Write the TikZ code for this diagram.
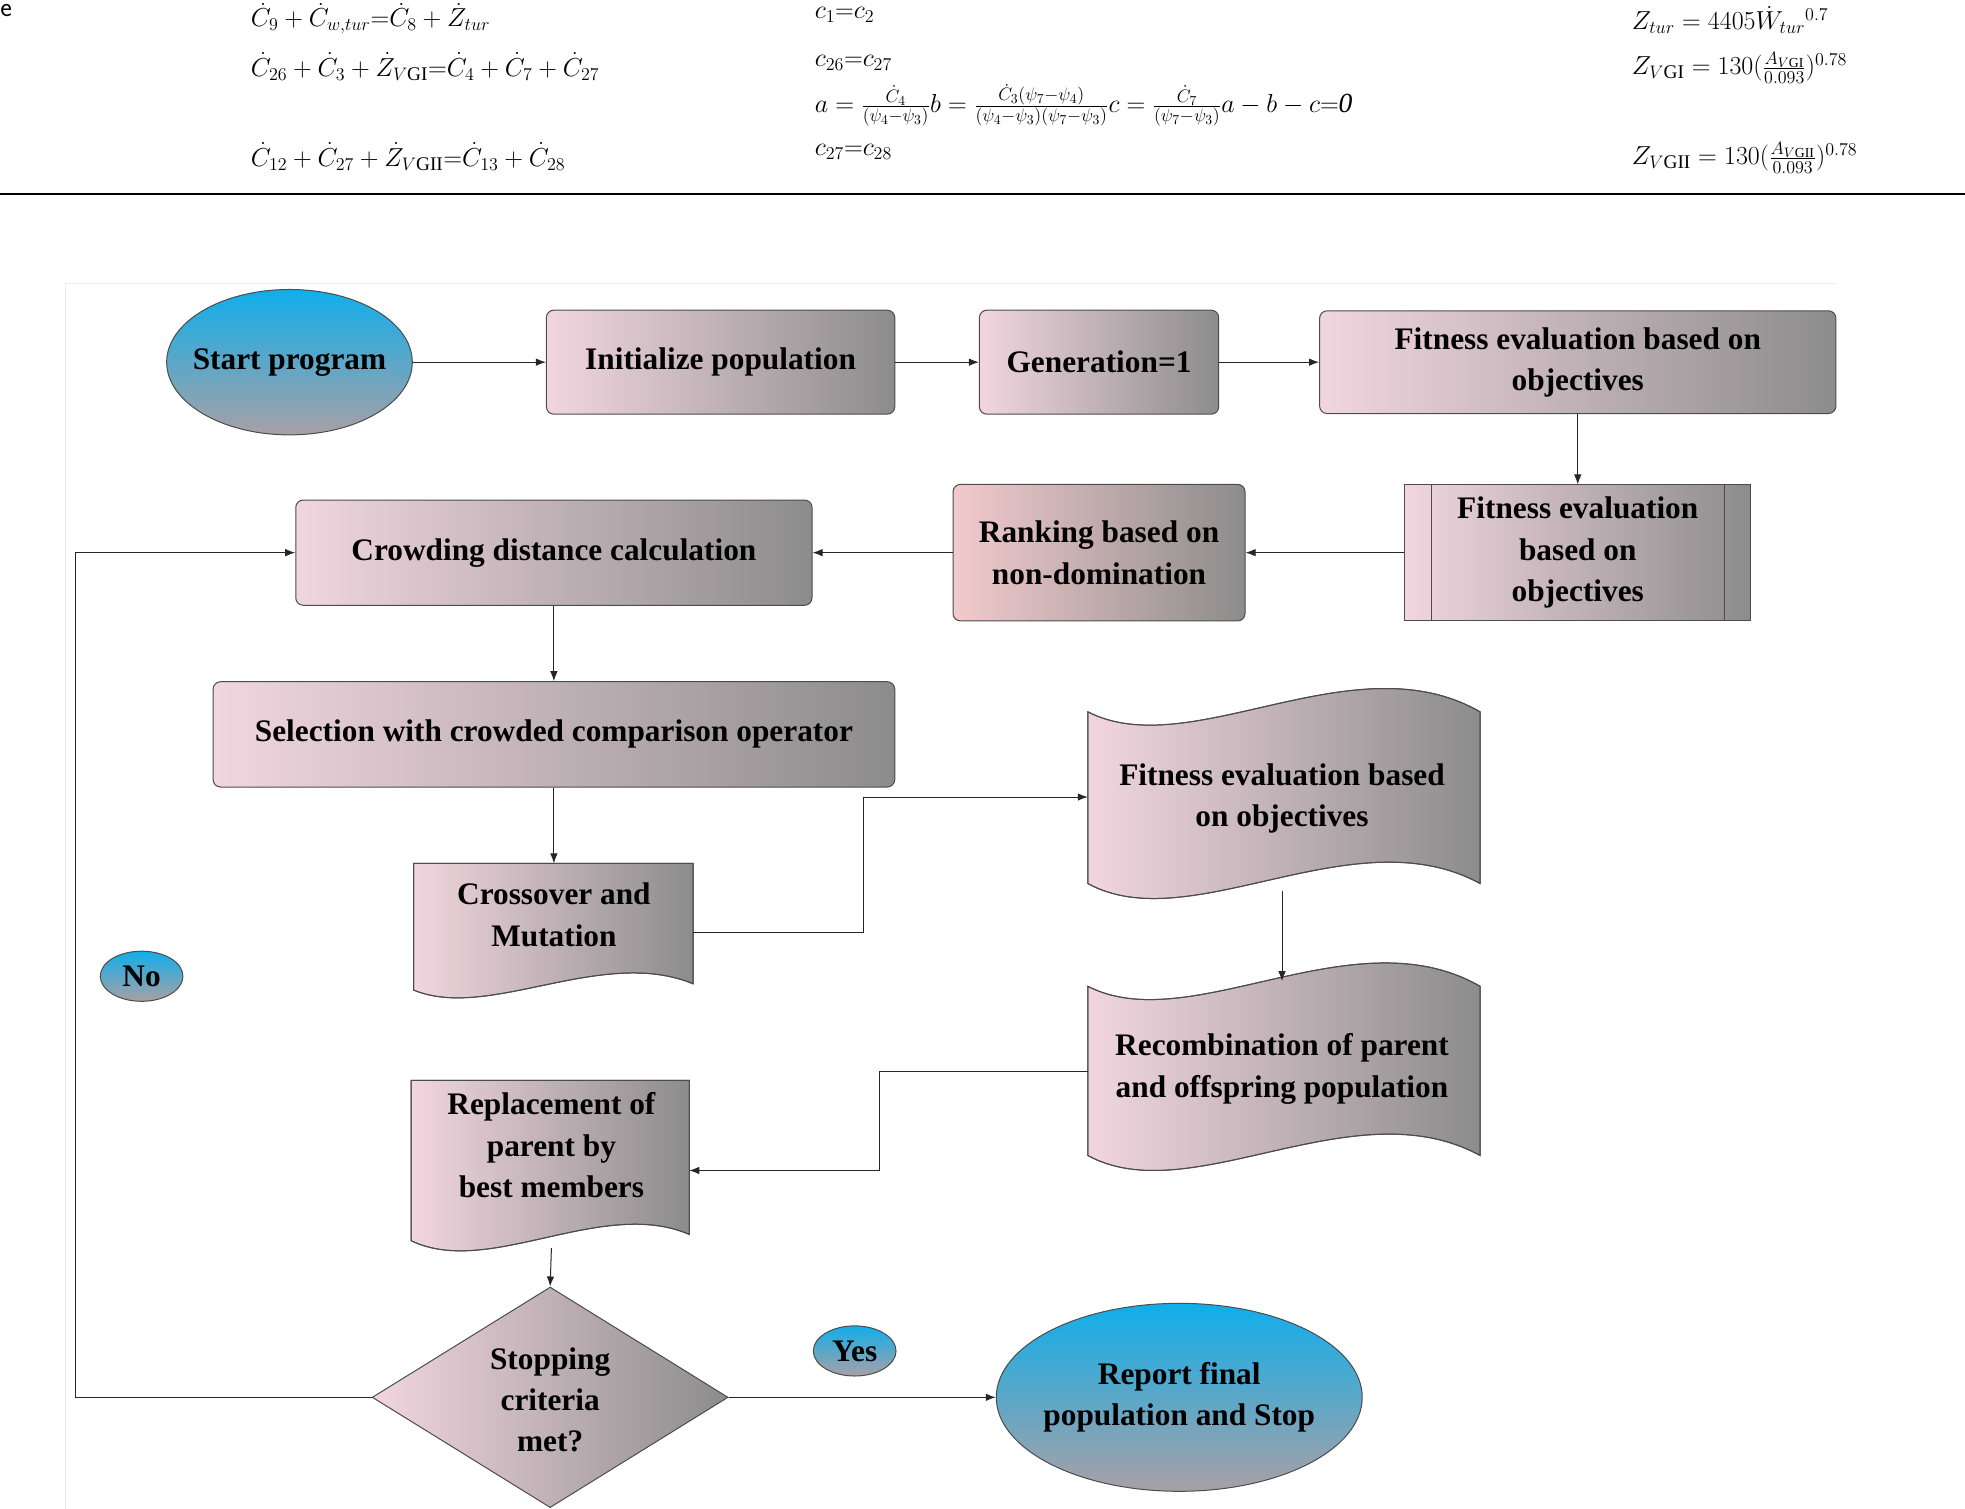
\documentclass[tikz,border=0pt]{standalone}
\usepackage{fontspec}
\setmainfont{Liberation Serif}
\usetikzlibrary{shapes.geometric,arrows.meta}
\definecolor{pk}{HTML}{F2D6DF}
\definecolor{gr}{HTML}{8C8C8C}
\definecolor{bl}{HTML}{10AEEA}
\definecolor{bb}{HTML}{A8A0A6}
\definecolor{rk}{HTML}{F3CACC}
\begin{document}
\begin{tikzpicture}[x=1pt,y=-1pt,
 box/.style={draw=gray!60!black,line width=0.8pt,rounded corners=6pt,left color=pk,right color=gr,align=center,font=\fontsize{25}{33}\selectfont\bfseries,inner sep=0pt},
 ell/.style={ellipse,draw=gray!60!black,line width=0.8pt,top color=bl,bottom color=bb,align=center,font=\fontsize{25}{33}\selectfont\bfseries,inner sep=-14pt},
 shp/.style={draw=gray!60!black,line width=0.8pt,left color=pk,right color=gr},
 txt/.style={align=center,font=\fontsize{25}{33}\selectfont\bfseries,inner sep=0pt},
 arr/.style={-{Latex[length=8pt,width=6pt]},line width=0.8pt,black!85},
 eq/.style={anchor=west,inner sep=0pt,font=\fontsize{22}{24}\selectfont}]
\useasboundingbox (0,0) rectangle (1568,1204);
% header
\node[eq] (e0) at (0,8) {\fontsize{22}{22}\selectfont\sffamily e};
\node[eq] (e1) at (200,15) {$\dot C_9+\dot C_{w,tur}\mathrm{=}\dot C_8+\dot Z_{tur}$};
\node[eq] (e2) at (200,53) {$\dot C_{26}+\dot C_3+\dot Z_{V\mathrm{GI}}\mathrm{=}\dot C_4+\dot C_7+\dot C_{27}$};
\node[eq] (e3) at (200,125) {$\dot C_{12}+\dot C_{27}+\dot Z_{V\mathrm{GII}}\mathrm{=}\dot C_{13}+\dot C_{28}$};
\node[eq] (f1) at (650,12) {$c_1\mathrm{=}c_2$};
\node[eq] (f2) at (650,50) {$c_{26}\mathrm{=}c_{27}$};
\node[eq] (f3) at (650,84) {$a=\frac{\dot C_4}{(\psi_4-\psi_3)}b=\frac{\dot C_3(\psi_7-\psi_4)}{(\psi_4-\psi_3)(\psi_7-\psi_3)}c=\frac{\dot C_7}{(\psi_7-\psi_3)}a-b-c\mathrm{=}\mathit{0}$};
\node[eq] (f4) at (650,121) {$c_{27}\mathrm{=}c_{28}$};
\node[eq] (g1) at (1302,16) {$Z_{tur}=4405\dot W_{tur}{}^{0.7}$};
\node[eq] (g2) at (1302,54) {$Z_{V\mathrm{GI}}=130(\frac{A_{V\mathrm{GI}}}{0.093})^{0.78}$};
\node[eq] (g3) at (1302,126) {$Z_{V\mathrm{GII}}=130(\frac{A_{V\mathrm{GII}}}{0.093})^{0.78}$};
\draw[line width=1.2pt] (0,155) coordinate (l0) -- (1568,155) coordinate (l1);
\draw[black!8] (52,1204) -- (52,226) -- (1465,226);
% nodes
\node[ell,minimum width=196,minimum height=116] (start) at (231,289) {Start program};
\node[box,minimum width=278,minimum height=83] (init) at (575,289) {Initialize population};
\node[box,minimum width=191,minimum height=83] (gen) at (877,289) {Generation=1};
\node[box,minimum width=412,minimum height=82] (fit1) at (1259,289) {Fitness evaluation based on\\objectives};
\node[box,rounded corners=0pt,minimum width=276,minimum height=108] (fit2) at (1259,441) {Fitness evaluation\\based on\\objectives};
\draw[gray!60!black,line width=0.8pt] (1142,387) -- (1142,495) (1376,387) -- (1376,495);
\node[box,left color=rk,minimum width=233,minimum height=109] (rank) at (877,441) {Ranking based on\\non-domination};
\node[box,minimum width=412,minimum height=84] (crowd) at (442,441) {Crowding distance calculation};
\node[box,minimum width=544,minimum height=84] (sel) at (442,586) {Selection with crowded comparison operator};
% crossover document
\shade[shp] (330,689) -- (553,689) -- (553,785) .. controls (480,755) and (390,815) .. (330,790) -- cycle;
\draw[gray!60!black,line width=0.8pt] (330,689) -- (553,689) -- (553,785) .. controls (480,755) and (390,815) .. (330,790) -- cycle;
\node[txt] (cross) at (442,730) {Crossover and\\Mutation};
\coordinate (crossT) at (442,689); \coordinate (crossR) at (553,744);
% fitness tape
\shade[shp] (868,568) .. controls (950,610) and (1080,510) .. (1181,568) -- (1181,705) .. controls (1080,650) and (950,750) .. (868,705) -- cycle;
\draw[gray!60!black,line width=0.8pt] (868,568) .. controls (950,610) and (1080,510) .. (1181,568) -- (1181,705) .. controls (1080,650) and (950,750) .. (868,705) -- cycle;
\node[txt] (fit3) at (1023,637) {Fitness evaluation based\\on objectives};
\coordinate (fit3L) at (868,636); \coordinate (fit3B) at (1023,711);
% recombination tape
\shade[shp] (868,787) .. controls (950,829) and (1080,729) .. (1181,787) -- (1181,922) .. controls (1080,867) and (950,967) .. (868,922) -- cycle;
\draw[gray!60!black,line width=0.8pt] (868,787) .. controls (950,829) and (1080,729) .. (1181,787) -- (1181,922) .. controls (1080,867) and (950,967) .. (868,922) -- cycle;
\node[txt] (recomb) at (1023,853) {Recombination of parent\\and offspring population};
\coordinate (recT) at (1023,783); \coordinate (recL) at (868,855);
% replacement document
\shade[shp] (328,862) -- (550,862) -- (550,985) .. controls (480,955) and (390,1020) .. (328,990) -- cycle;
\draw[gray!60!black,line width=0.8pt] (328,862) -- (550,862) -- (550,985) .. controls (480,955) and (390,1020) .. (328,990) -- cycle;
\node[txt] (repl) at (440,914) {Replacement of\\parent by\\best members};
\coordinate (replR) at (550,934); \coordinate (replB) at (440,996);
% diamond
\node[diamond,draw=gray!60!black,line width=0.8pt,left color=pk,right color=gr,minimum width=284,minimum height=176,inner sep=0pt] (stop) at (439,1115) {};
\node[txt] (stopt) at (439,1117) {Stopping\\criteria\\met?};
\node[ell,minimum width=292,minimum height=150] (report) at (941,1115) {Report final\\population and Stop};
\node[ell,inner sep=0pt,minimum width=66,minimum height=40] (no) at (113,779) {No};
\node[ell,inner sep=0pt,minimum width=66,minimum height=40] (yes) at (682,1078) {Yes};
% connectors
\draw[arr] (start) -- (init);
\draw[arr] (init) -- (gen);
\draw[arr] (gen) -- (fit1);
\draw[arr] (fit1) -- (fit2);
\draw[arr] (fit2) -- (rank);
\draw[arr] (rank) -- (crowd);
\draw[arr] (crowd) -- (sel);
\draw[arr] (sel) -- (crossT);
\draw[arr] (crossR) -- (689,744) -- (689,636) -- (fit3L);
\draw[arr] (fit3B) -- (recT);
\draw[arr] (recL) -- (702,855) -- (702,934) -- (replR);
\draw[arr] (replB) -- (stop.north);
\draw[arr] (stop.east) -- (report.west);
\draw[arr] (stop.west) -- (60,1115) -- (60,441) -- (crowd.west);
\end{tikzpicture}
\end{document}
